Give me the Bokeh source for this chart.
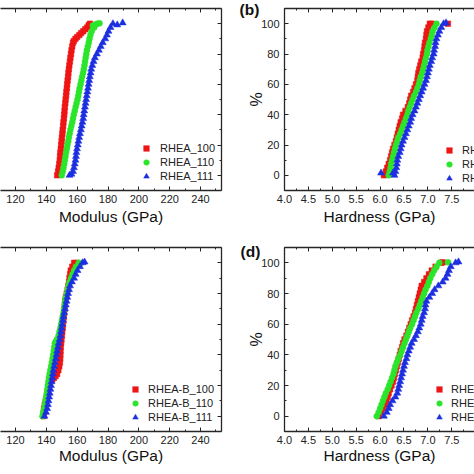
from bokeh.plotting import figure
from bokeh.models import (Range1d, LinearAxis, SingleIntervalTicker, Legend, LegendItem,
                          PrintfTickFormatter, Grid)
from bokeh.layouts import column, row
from bokeh.embed import file_html
from bokeh.resources import INLINE

FONT = "Liberation Sans"
RED, GREEN, BLUE = "#ee1515", "#2be52b", "#1c2fe0"
INK = "#262626"

# ---------------- data (cumulative %) ----------------
pct = [0, 2.5, 5, 7.5, 10, 12.5, 15, 17.5, 20, 22.5, 25, 27.5, 30, 32.5, 35, 37.5, 40,
       42.5, 45, 47.5, 50, 52.5, 55, 57.5, 60, 62.5, 65, 67.5, 70, 72.5, 75, 77.5, 80,
       82.5, 85, 87.5, 90, 92.5, 95, 97.5, 100]

# (a) Modulus, RHEA
mod_rhea_100 = [147.0, 147.6, 148.0, 148.4, 148.7, 148.9, 149.1, 149.4, 149.6, 149.9, 150.1,
                150.4, 150.6, 150.9, 151.1, 151.4, 151.6, 151.8, 152.0, 152.3, 152.5, 152.8,
                153.0, 153.3, 153.5, 153.8, 154.1, 154.3, 154.6, 154.9, 155.3, 155.6, 156.0,
                156.3, 156.8, 157.3, 158.9, 161.4, 163.9, 166.5, 168.3]
mod_rhea_100_extra_x = [157.8, 160.0, 162.6, 165.2, 167.5]
mod_rhea_100_extra_y = [88.5, 91.2, 93.8, 96.3, 99.0]
mod_rhea_110 = [150.0, 150.6, 151.1, 151.6, 152.0, 152.4, 152.8, 153.3, 153.7, 154.2, 154.6,
                155.1, 155.6, 156.2, 156.8, 157.3, 157.8, 158.4, 159.0, 159.6, 160.2, 160.7,
                161.1, 161.6, 162.2, 162.7, 163.2, 163.8, 164.3, 164.7, 165.1, 165.5, 165.9,
                166.3, 166.9, 167.5, 168.0, 168.6, 169.4, 171.0, 173.0]
mod_rhea_110_extra_x = [170.2, 172.0, 174.5]
mod_rhea_110_extra_y = [98.8, 99.5, 100.2]
mod_rhea_111 = [155.0, 157.3, 157.9, 158.4, 158.9, 159.2, 159.5, 159.9, 160.4, 160.8, 161.3,
                161.8, 162.4, 162.9, 163.4, 163.9, 164.2, 164.6, 165.0, 165.4, 165.8, 166.2,
                166.6, 167.0, 167.4, 167.8, 168.2, 168.7, 169.1, 169.8, 170.6, 171.5, 172.8,
                174.1, 175.3, 176.6, 178.2, 179.3, 180.3, 181.6, 183.2]
mod_rhea_111_extra_x = [156.3, 186.0, 189.5]
mod_rhea_111_extra_y = [0.8, 99.2, 100.5]

# (b) Hardness, RHEA
hard_rhea_100 = [6.08, 6.12, 6.15, 6.18, 6.21, 6.23, 6.25, 6.27, 6.30, 6.33, 6.35, 6.37, 6.39,
                 6.41, 6.43, 6.46, 6.48, 6.53, 6.58, 6.61, 6.63, 6.65, 6.69, 6.72, 6.75, 6.78,
                 6.79, 6.80, 6.82, 6.84, 6.86, 6.89, 6.90, 6.92, 6.93, 6.94, 6.96, 6.97, 6.98,
                 7.01, 7.04]
hard_rhea_100_extra_x = [7.08, 7.42]
hard_rhea_100_extra_y = [100.0, 100.0]
hard_rhea_110 = [6.18, 6.20, 6.22, 6.23, 6.25, 6.27, 6.29, 6.31, 6.33, 6.36, 6.38, 6.42, 6.45,
                 6.48, 6.51, 6.54, 6.57, 6.59, 6.62, 6.65, 6.68, 6.71, 6.75, 6.78, 6.81, 6.83,
                 6.85, 6.88, 6.90, 6.92, 6.94, 6.96, 6.98, 6.99, 7.01, 7.03, 7.06, 7.08, 7.10,
                 7.14, 7.18]
hard_rhea_110_extra_x = []
hard_rhea_110_extra_y = []
hard_rhea_111 = [6.30, 6.32, 6.34, 6.35, 6.36, 6.38, 6.41, 6.43, 6.45, 6.48, 6.51, 6.54, 6.57,
                 6.60, 6.63, 6.65, 6.68, 6.72, 6.75, 6.78, 6.81, 6.84, 6.87, 6.90, 6.93, 6.96,
                 6.98, 7.00, 7.02, 7.04, 7.07, 7.09, 7.12, 7.13, 7.15, 7.16, 7.18, 7.21, 7.24,
                 7.28, 7.33]
hard_rhea_111_extra_x = [6.02, 6.27, 7.38]
hard_rhea_111_extra_y = [1.5, 1.5, 100.5]

# (c) Modulus, RHEA-B
mod_rheab_100 = [138.2, 138.3, 138.5, 139.0, 139.6, 140.2, 140.7, 141.2, 141.7, 142.5, 145.0,
                 147.0, 147.8, 148.4, 148.8, 149.0, 149.1, 149.2, 149.3, 149.6, 149.8, 150.1,
                 150.3, 150.6, 150.8, 151.1, 151.3, 151.6, 151.8, 152.0, 152.2, 152.6, 153.2,
                 153.8, 154.3, 154.7, 155.0, 155.4, 155.8, 156.8, 158.0]
mod_rheab_100_extra_x = [143.8, 146.0, 159.5]
mod_rheab_100_extra_y = [23.8, 26.2, 100.0]
mod_rheab_110 = [137.5, 138.0, 138.6, 139.1, 139.5, 139.9, 140.3, 140.6, 141.0, 141.3, 141.7,
                 142.1, 142.6, 143.1, 143.6, 144.0, 144.4, 144.8, 145.1, 145.5, 146.8, 147.9,
                 148.5, 149.1, 149.6, 150.1, 150.6, 151.1, 151.5, 151.9, 152.2, 152.6, 153.3,
                 153.9, 154.4, 155.1, 156.0, 157.0, 158.0, 159.2, 161.0]
mod_rheab_110_extra_x = [146.2, 162.2]
mod_rheab_110_extra_y = [48.8, 99.5]
mod_rheab_111 = [138.8, 139.8, 140.5, 141.0, 141.4, 141.8, 142.2, 142.6, 143.0, 143.4, 143.8,
                 144.2, 144.6, 145.1, 145.6, 146.1, 146.6, 147.0, 147.5, 148.0, 148.6, 149.1,
                 149.5, 149.9, 150.3, 150.7, 151.1, 151.6, 152.1, 152.6, 153.1, 153.6, 154.1,
                 154.7, 155.4, 156.6, 158.0, 159.0, 160.2, 161.8, 163.5]
mod_rheab_111_extra_x = [164.8]
mod_rheab_111_extra_y = [100.5]

# (d) Hardness, RHEA-B
hard_rheab_100 = [5.97, 6.02, 6.06, 6.10, 6.13, 6.16, 6.18, 6.21, 6.24, 6.27, 6.29, 6.31, 6.33,
                  6.35, 6.37, 6.39, 6.41, 6.43, 6.46, 6.48, 6.51, 6.55, 6.58, 6.61, 6.64, 6.67,
                  6.70, 6.73, 6.75, 6.77, 6.79, 6.81, 6.83, 6.85, 6.87, 6.92, 6.97, 7.02, 7.08,
                  7.16, 7.28]
hard_rheab_100_extra_x = [7.31]
hard_rheab_100_extra_y = [100.3]
hard_rheab_110 = [5.93, 5.97, 6.00, 6.03, 6.06, 6.09, 6.12, 6.16, 6.19, 6.22, 6.25, 6.28, 6.30,
                  6.32, 6.35, 6.38, 6.42, 6.45, 6.48, 6.51, 6.54, 6.57, 6.60, 6.63, 6.67, 6.70,
                  6.73, 6.76, 6.80, 6.83, 6.86, 6.89, 6.92, 6.95, 6.99, 7.02, 7.05, 7.09, 7.13,
                  7.18, 7.24]
hard_rheab_110_extra_x = [7.42]
hard_rheab_110_extra_y = [100.3]
hard_rheab_111 = [6.08, 6.14, 6.18, 6.21, 6.26, 6.32, 6.36, 6.38, 6.40, 6.42, 6.44, 6.46, 6.48,
                  6.50, 6.52, 6.55, 6.57, 6.60, 6.63, 6.66, 6.71, 6.75, 6.79, 6.82, 6.85, 6.87,
                  6.89, 6.92, 6.94, 6.95, 6.97, 7.03, 7.09, 7.14, 7.22, 7.31, 7.37, 7.41, 7.44,
                  7.48, 7.58]
hard_rheab_111_extra_x = [7.64]
hard_rheab_111_extra_y = [100.6]

labels_rhea = ["RHEA_100", "RHEA_110", "RHEA_111"]
labels_rheab = ["RHEA-B_100", "RHEA-B_110", "RHEA-B_111"]
y_ticks_step = 20
mod_tick_step = 20
hard_tick_step = 0.5


def style_axis(ax, show_labels, fmt=None):
    ax.major_tick_in = 4
    ax.major_tick_out = 0
    ax.minor_tick_in = 2
    ax.minor_tick_out = 0
    ax.axis_line_color = INK
    ax.axis_line_width = 1.3
    ax.major_tick_line_color = INK
    ax.minor_tick_line_color = INK
    ax.major_tick_line_width = 1
    ax.minor_tick_line_width = 1
    if show_labels:
        ax.major_label_text_font = FONT
        ax.major_label_text_font_size = "11px"
        ax.major_label_text_color = "#222222"
        ax.major_label_standoff = 4
        if fmt:
            ax.formatter = PrintfTickFormatter(format=fmt)
    else:
        ax.formatter = PrintfTickFormatter(format="")
        ax.major_label_text_color = None
        ax.major_label_text_font_size = "1px"
        ax.major_label_standoff = 0


def panel(w, h, xr, xstep, borders, xlabel, fmt, left_axis, right_frame, tag=None,
          xlabel_standoff=2):
    lft, rgt, top, bot = borders
    p = figure(width=w, height=h, x_range=Range1d(*xr), y_range=Range1d(-10, 110),
               x_axis_location=None, y_axis_location=None, toolbar_location=None,
               output_backend="svg", min_border_left=lft, min_border_right=rgt,
               min_border_top=top, min_border_bottom=bot)
    p.outline_line_color = None
    p.background_fill_color = "white"
    p.border_fill_color = "white"
    for r in p.center:
        if isinstance(r, Grid):
            r.visible = False
    if tag is not None:
        text, offset, standoff = tag
        p.title.text = text
        p.title.align = "left"
        p.title.offset = offset
        p.title.standoff = standoff
        p.title.text_font = FONT
        p.title.text_font_size = "15.5px"
        p.title.text_font_style = "bold"
        p.title.text_color = "#111111"
    xt = SingleIntervalTicker(interval=xstep, num_minor_ticks=2)
    yt = SingleIntervalTicker(interval=y_ticks_step, num_minor_ticks=2)

    below = LinearAxis(ticker=xt, axis_label=xlabel)
    style_axis(below, True, fmt)
    below.axis_label_text_font = FONT
    below.axis_label_text_font_size = "15.5px"
    below.axis_label_text_font_style = "normal"
    below.axis_label_text_color = "#111111"
    below.axis_label_standoff = xlabel_standoff
    p.add_layout(below, "below")

    above = LinearAxis(ticker=xt)
    style_axis(above, False)
    p.add_layout(above, "above")

    if right_frame:
        right = LinearAxis(ticker=yt)
        style_axis(right, False)
        p.add_layout(right, "right")
    if left_axis:
        left = LinearAxis(ticker=yt, axis_label="%")
        style_axis(left, True, "%d")
        left.major_label_standoff = 5
        left.axis_label_text_font = FONT
        left.axis_label_text_font_size = "16px"
        left.axis_label_text_font_style = "normal"
        left.axis_label_text_color = "#111111"
        left.axis_label_standoff = -7
        p.add_layout(left, "left")
    return p


def add_series(p, xs, ys, exs, eys, names, legend_xy, standoff):
    specs = [("square", RED, 5.5), ("circle", GREEN, 6), ("triangle", BLUE, 7)]
    items = []
    for x, ex, ey, name, (mk, col, sz) in zip(xs, exs, eys, names, specs):
        r = p.scatter(x + ex, ys + ey, marker=mk, size=sz, fill_color=col, line_color=col,
                      line_width=0.5)
        items.append(LegendItem(label=name, renderers=[r]))
    leg = Legend(items=items, location=legend_xy, orientation="vertical", padding=0, margin=0,
                 spacing=0, glyph_width=14, glyph_height=14, label_height=14, label_width=10,
                 label_standoff=standoff, border_line_color=None, background_fill_alpha=0,
                 label_text_font=FONT, label_text_font_size="11px", label_text_color="#222222")
    p.add_layout(leg, "center")


# (a)
pa = panel(234, 234, (110.27, 253.6), mod_tick_step, (0, 13, 6, 44), "Modulus (GPa)", "%d",
           False, True)
add_series(pa, [mod_rhea_100, mod_rhea_110, mod_rhea_111], pct,
           [mod_rhea_100_extra_x, mod_rhea_110_extra_x, mod_rhea_111_extra_x],
           [mod_rhea_100_extra_y, mod_rhea_110_extra_y, mod_rhea_111_extra_y],
           labels_rhea, (139, 7), 7)

# (b)
pb = panel(240, 234, (4.0, 7.975), hard_tick_step, (50, 0, 8, 42), "Hardness (GPa)", "%.1f",
           True, False, tag=("(b)", -45, -18))
add_series(pb, [hard_rhea_100, hard_rhea_110, hard_rhea_111], pct,
           [hard_rhea_100_extra_x, hard_rhea_110_extra_x, hard_rhea_111_extra_x],
           [hard_rhea_100_extra_y, hard_rhea_110_extra_y, hard_rhea_111_extra_y],
           labels_rhea, (158, 5), 6)

# (c)
pc = panel(234, 240, (110.27, 253.6), mod_tick_step, (0, 13, 13, 43), "Modulus (GPa)", "%d",
           False, True, xlabel_standoff=0)
add_series(pc, [mod_rheab_100, mod_rheab_110, mod_rheab_111], pct,
           [mod_rheab_100_extra_x, mod_rheab_110_extra_x, mod_rheab_111_extra_x],
           [mod_rheab_100_extra_y, mod_rheab_110_extra_y, mod_rheab_111_extra_y],
           labels_rheab, (128, 7), 6)

# (d)
pd = panel(240, 240, (4.0, 7.975), hard_tick_step, (50, 0, 13, 43), "Hardness (GPa)", "%.1f",
           True, False, tag=("(d)", -44, -24), xlabel_standoff=0)
add_series(pd, [hard_rheab_100, hard_rheab_110, hard_rheab_111], pct,
           [hard_rheab_100_extra_x, hard_rheab_110_extra_x, hard_rheab_111_extra_x],
           [hard_rheab_100_extra_y, hard_rheab_110_extra_y, hard_rheab_111_extra_y],
           labels_rheab, (148, 7), 5)

layout = column(row(pa, pb), row(pc, pd))
open("out.html", "w").write(file_html(layout, INLINE))
